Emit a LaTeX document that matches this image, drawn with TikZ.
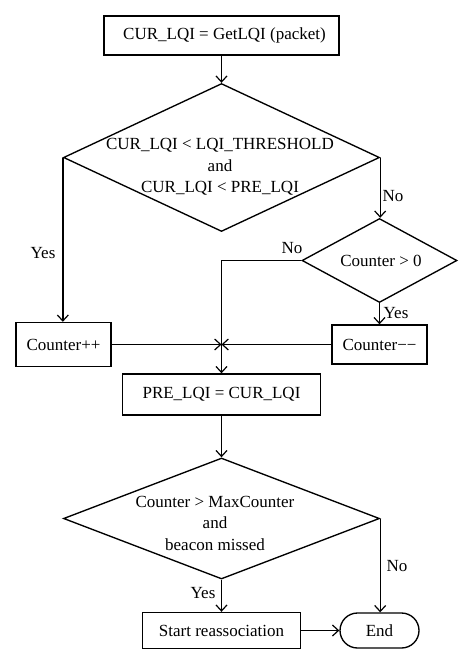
\documentclass[tikz,border=0pt]{standalone}
\usepackage{fontspec}
\setmainfont{Liberation Serif}
\usetikzlibrary{arrows.meta,shapes.geometric,shapes.misc}
\begin{document}
\begin{tikzpicture}[x=1pt,y=-1pt,line width=1.35pt,
  every node/.style={font=\fontsize{17}{21.5}\selectfont},
  box/.style={draw,rectangle,inner sep=0pt},
  dia/.style={draw,diamond,inner sep=0pt},
  term/.style={draw,rounded rectangle,inner sep=0pt},
  lbl/.style={inner sep=0pt},
  arr/.style={-{Straight Barb[length=6pt,width=11pt,line width=1.2pt]}}]
\useasboundingbox[fill=white] (0,0) rectangle (474,664);
% nodes
\node[box,minimum width=235pt,minimum height=39pt] (top) at (221.5,35.5) {\hspace{6pt}CUR\_LQI = GetLQI (packet)};
\node[dia,minimum width=316pt,minimum height=148pt] (d1) at (221.5,157.5) {};
\node[lbl,align=center] (d1t) at (220,167) {CUR\_LQI < LQI\_THRESHOLD\\and\\CUR\_LQI < PRE\_LQI};
\node[dia,minimum width=155pt,minimum height=84pt] (d2) at (379.5,260.5) {};
\node[lbl] (d2t) at (381,261) {Counter > 0};
\node[box,minimum width=95pt,minimum height=44pt] (cpp) at (63.5,344.5) {Counter++};
\node[box,minimum width=95pt,minimum height=39pt] (cmm) at (379.5,344.5) {Counter−−};
\node[box,minimum width=198pt,minimum height=41pt] (pre) at (221.5,394.5) {PRE\_LQI = CUR\_LQI};
\node[dia,minimum width=316pt,minimum height=121pt] (d3) at (221.5,518.5) {};
\node[lbl,align=center] (d3t) at (215,523) {Counter > MaxCounter\\and\\beacon missed};
\node[box,minimum width=158pt,minimum height=36pt] (start) at (221.5,630.5) {Start reassociation};
\node[term,minimum width=79pt,minimum height=35pt] (end) at (379.5,630.5) {End};
% connectors
\draw[arr] (top.south) -- (d1.north);
\draw[arr] (d1.east) -- (d1.east |- d2.north);
\draw[arr] (d1.west) -- (d1.west |- cpp.north);
\draw[arr] (d2.south) -- (d2.south |- cmm.north);
\coordinate (mid) at (pre.north |- cpp.east);
\draw[arr] (cpp.east) -- (mid);
\draw[arr] (cmm.west) -- (mid);
\draw[arr] (d2.west) -- (d2.west -| pre.north) -- (pre.north);
\draw[arr] (pre.south) -- (d3.north);
\draw[arr] (d3.south) -- (start.north);
\draw[arr] (d3.east) -- (d3.east |- end.north);
\draw[arr] (start.east) -- (end.west);
% labels
\node[lbl] (l1) at (393,196) {No};
\node[lbl] (l2) at (43,253) {Yes};
\node[lbl] (l3) at (292,248) {No};
\node[lbl] (l4) at (396,313) {Yes};
\node[lbl] (l5) at (203,593) {Yes};
\node[lbl] (l6) at (397,566) {No};
\end{tikzpicture}
\end{document}
